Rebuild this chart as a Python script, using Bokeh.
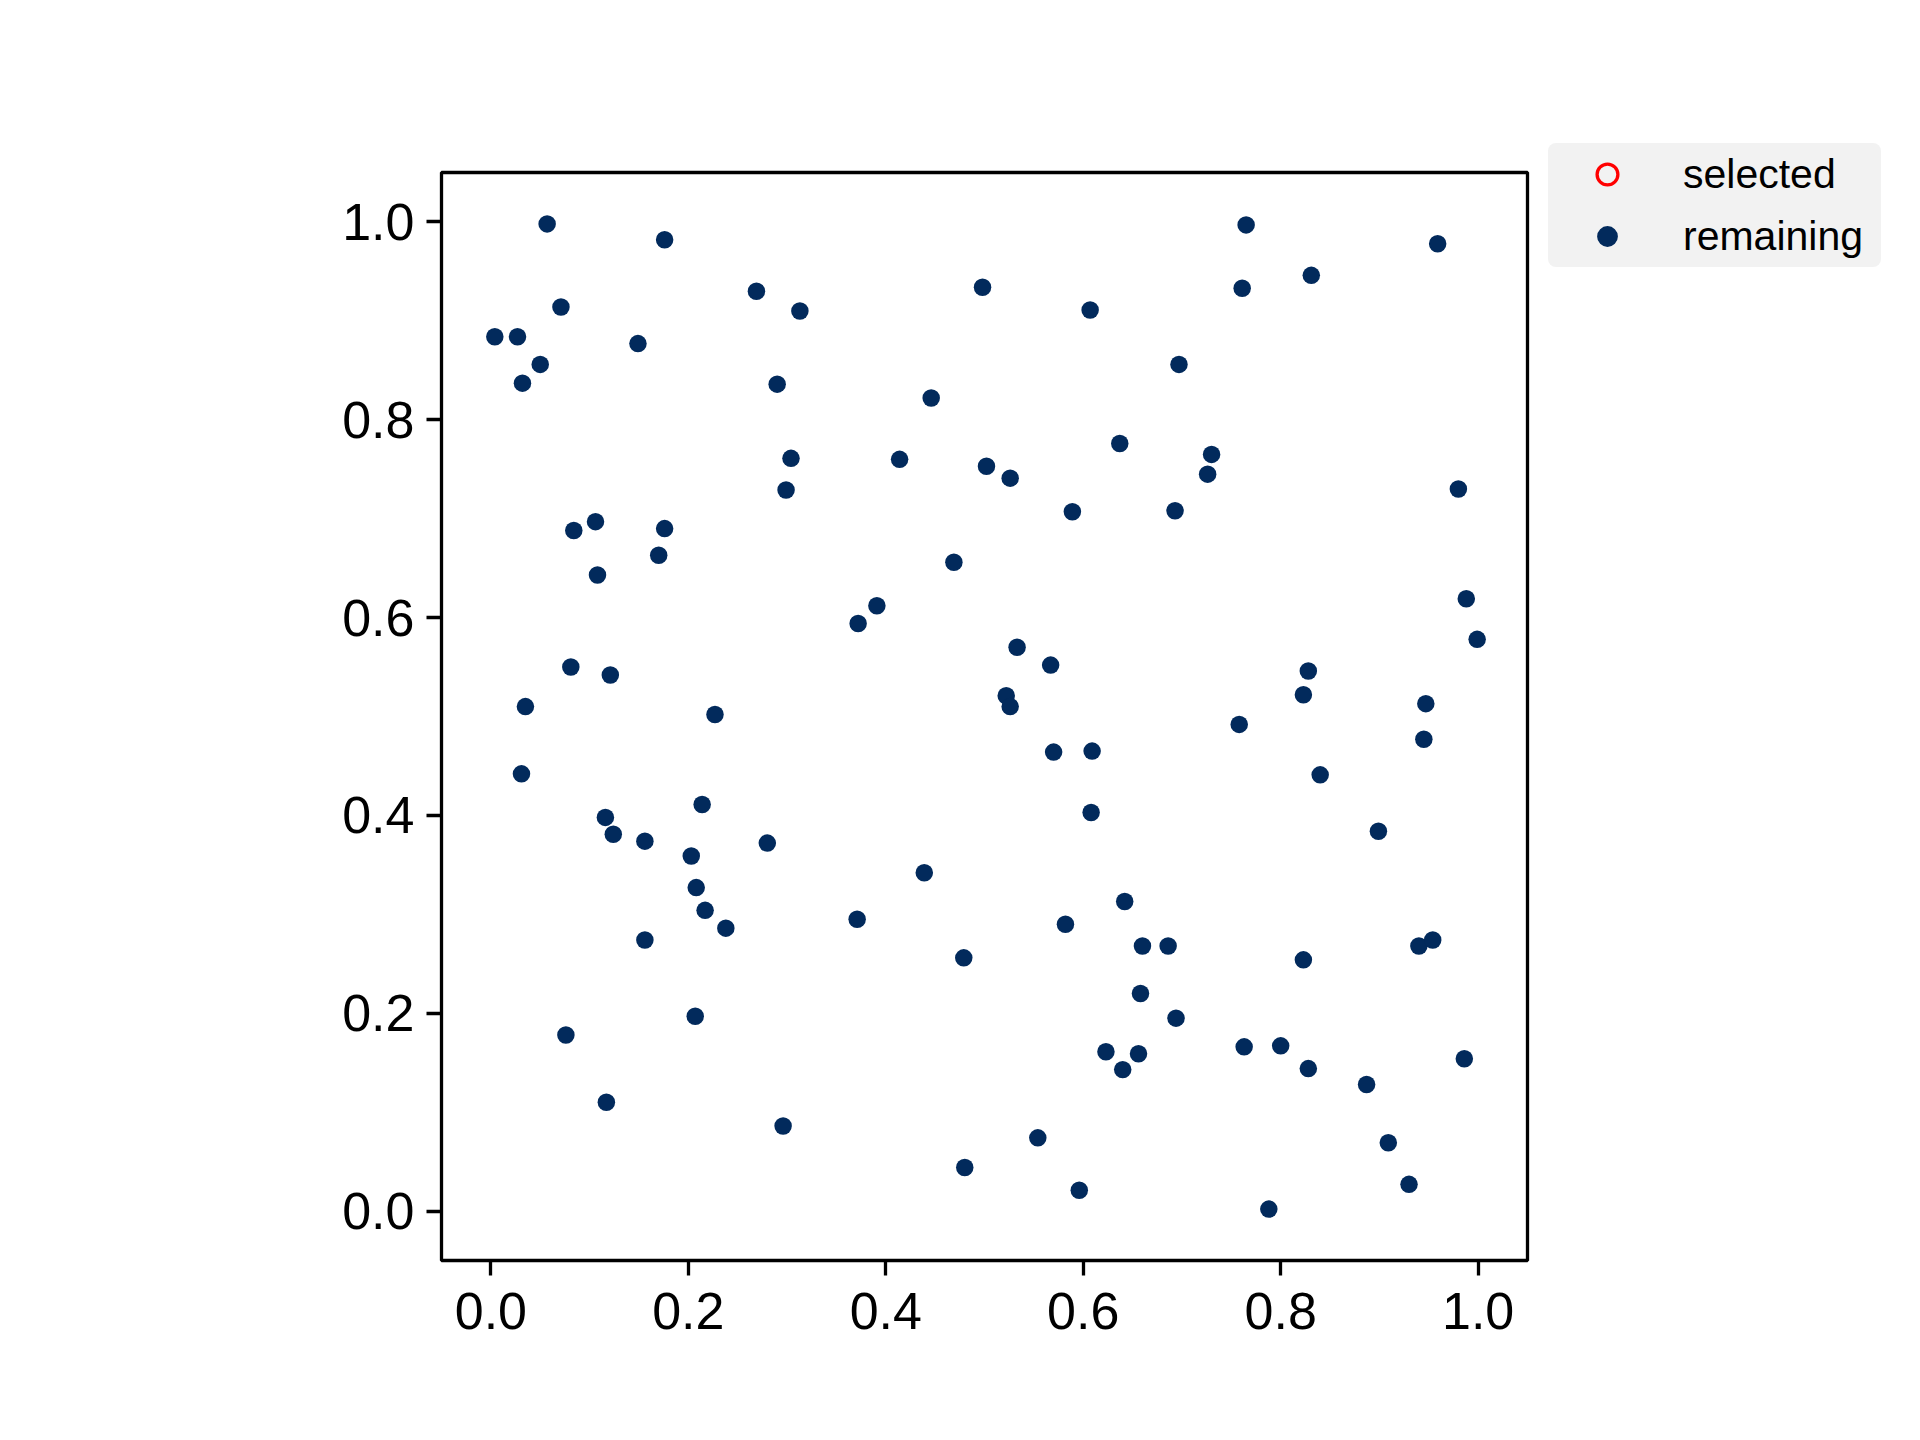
from bokeh.plotting import figure
from bokeh.models import Range1d, FixedTicker, PrintfTickFormatter, Legend, LegendItem, ColumnDataSource
from bokeh.embed import file_html
from bokeh.resources import INLINE

# ---- data ----
remaining_x = [
    0.057, 0.176, 0.269, 0.498, 0.071, 0.313, 0.004, 0.027, 0.149, 0.050,
    0.032, 0.290, 0.446, 0.304, 0.414, 0.502, 0.299, 0.106, 0.084, 0.176,
    0.170, 0.108, 0.469, 0.391, 0.372, 0.081, 0.121, 0.035, 0.227,
    0.765, 0.959, 0.831, 0.761, 0.607, 0.697, 0.637, 0.730, 0.726, 0.526,
    0.980, 0.589, 0.693, 0.988, 0.999, 0.533, 0.567, 0.828, 0.823, 0.947,
    0.522, 0.526,
    0.031, 0.214, 0.116, 0.124, 0.156, 0.280, 0.203, 0.208, 0.217, 0.238,
    0.439, 0.371, 0.156, 0.479, 0.207, 0.076, 0.117, 0.296, 0.480,
    0.758, 0.945, 0.570, 0.609, 0.840, 0.608, 0.899, 0.642, 0.582, 0.660,
    0.686, 0.940, 0.954, 0.823, 0.658, 0.694, 0.623, 0.656, 0.640, 0.763,
    0.800, 0.828, 0.887, 0.986, 0.554, 0.909, 0.596, 0.930, 0.788,
]
remaining_y = [
    0.998, 0.982, 0.930, 0.934, 0.914, 0.910, 0.884, 0.884, 0.877, 0.856,
    0.837, 0.836, 0.822, 0.761, 0.760, 0.753, 0.729, 0.697, 0.688, 0.690,
    0.663, 0.643, 0.656, 0.612, 0.594, 0.550, 0.542, 0.510, 0.502,
    0.997, 0.978, 0.946, 0.933, 0.911, 0.856, 0.776, 0.765, 0.745, 0.741,
    0.730, 0.707, 0.708, 0.619, 0.578, 0.570, 0.552, 0.546, 0.522, 0.513,
    0.521, 0.510,
    0.442, 0.411, 0.398, 0.381, 0.374, 0.372, 0.359, 0.327, 0.304, 0.286,
    0.342, 0.295, 0.274, 0.256, 0.197, 0.178, 0.110, 0.086, 0.044,
    0.492, 0.477, 0.464, 0.465, 0.441, 0.403, 0.384, 0.313, 0.290, 0.268,
    0.268, 0.268, 0.274, 0.254, 0.220, 0.195, 0.161, 0.159, 0.143, 0.166,
    0.167, 0.144, 0.128, 0.154, 0.074, 0.069, 0.021, 0.027, 0.002,
]
# no point is selected: the series is empty (a NaN placeholder keeps its legend glyph drawn)
selected_x = []
selected_y = []
series_labels = ["selected", "remaining"]
tick_values = [0.0, 0.2, 0.4, 0.6, 0.8, 1.0]

FONT = "Liberation Sans"

p = figure(
    frame_width=1086, frame_height=1088,
    x_range=Range1d(-0.05, 1.05), y_range=Range1d(-0.05, 1.05),
    output_backend="svg", toolbar_location=None,
    min_border_left=441, min_border_top=172, min_border_right=370, min_border_bottom=150,
)
p.background_fill_color = "white"
p.border_fill_color = "white"
p.outline_line_color = "black"
p.outline_line_width = 3.3
p.xgrid.grid_line_color = None
p.ygrid.grid_line_color = None

for ax in (p.xaxis[0], p.yaxis[0]):
    ax.ticker = FixedTicker(ticks=tick_values)
    ax.formatter = PrintfTickFormatter(format="%.1f")
    ax.axis_line_color = None
    ax.major_tick_in = 0
    ax.major_tick_out = 15
    ax.major_tick_line_width = 3.3
    ax.major_tick_line_color = "black"
    ax.minor_tick_line_color = None
    ax.major_label_text_font = FONT
    ax.major_label_text_font_size = "52px"
    ax.major_label_text_color = "black"
p.xaxis[0].major_label_standoff = 17
p.yaxis[0].major_label_standoff = 12

nan = float("nan")
sel_src = ColumnDataSource(dict(x=selected_x + [nan], y=selected_y + [nan]))
rem_src = ColumnDataSource(dict(x=remaining_x, y=remaining_y))

r_sel = p.scatter("x", "y", source=sel_src, marker="circle", size=20.8,
                  fill_color=None, line_color="red", line_width=3.3)
r_rem = p.scatter("x", "y", source=rem_src, marker="circle", size=17.5,
                  fill_color="#022a5c", line_color=None)

legend = Legend(
    items=[LegendItem(label=series_labels[0], renderers=[r_sel]),
           LegendItem(label=series_labels[1], renderers=[r_rem])],
    location=(21, 993), margin=0, padding=5, spacing=0,
    glyph_width=118, glyph_height=52, label_height=62, label_width=198,
    label_standoff=17,
    label_text_font=FONT, label_text_font_size="41px", label_text_color="black",
    background_fill_color="#f2f2f2", background_fill_alpha=1.0,
    border_line_color=None,
)
if "border_radius" in Legend.properties():
    legend.border_radius = 8
p.add_layout(legend, "right")

open("out.html", "w").write(file_html(p, INLINE))
